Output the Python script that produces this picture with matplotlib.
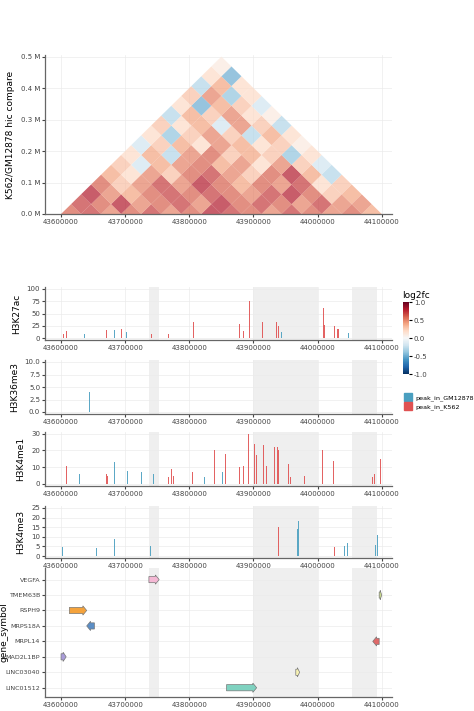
import matplotlib
matplotlib.use("Agg")
import matplotlib.pyplot as plt
import numpy as np
from matplotlib.patches import FancyArrow, Patch
from matplotlib.collections import PolyCollection
import matplotlib.colors as mcolors

# ---------------- data ----------------
hic_start = 43600000
hic_bin = 31250
hic_rows = [  # log2fc by diagonal distance (row d has 16-d cells)
    [0.6,0.7,0.5,0.6,0.7,0.5,0.6,0.8,0.7,0.6,0.5,0.7,0.6,0.5,0.6,0.4],
    [0.7,0.6,0.8,0.5,0.6,0.7,0.5,0.8,0.6,0.7,0.6,0.5,0.7,0.5,0.5],
    [0.8,0.5,0.4,0.6,0.7,0.6,0.7,0.6,0.5,0.7,0.8,0.6,0.3,0.4],
    [0.6,0.3,0.5,0.7,0.5,0.8,0.6,0.4,0.6,0.5,0.7,0.2,0.3],
    [0.4,0.2,0.5,0.3,0.6,0.7,0.5,0.3,0.6,0.8,0.4,-0.3],
    [0.3,-0.2,0.4,0.5,0.6,0.4,0.5,0.2,0.5,0.3,-0.2],
    [0.2,0.4,-0.3,0.5,0.6,0.3,0.4,0.3,-0.4,0.2],
    [-0.2,0.3,0.4,0.2,0.5,0.4,0.2,0.3,0.1],
    [0.2,-0.4,0.3,0.5,0.3,-0.3,0.4,0.2],
    [0.3,0.2,0.4,-0.2,0.5,0.3,-0.3],
    [-0.3,0.4,0.3,0.5,0.2,0.1],
    [0.2,-0.5,0.4,0.3,-0.2],
    [0.3,0.5,-0.4,0.2],
    [-0.3,0.4,0.2],
    [0.2,-0.5],
    [0.1],
]

h3k27ac_pos = [43604000,43608000,43636000,43671000,43683000,43694000,43702000,43741000,43767000,43806000,
               43878000,43884000,43894000,43914000,43936000,43939000,43944000,44009000,44011000,44026000,
               44031000,44033000,44048000]
h3k27ac_val = [8,15,9,17,16,18,12,8,8,32,28,14,75,32,32,25,12,62,27,24,18,18,10]
h3k27ac_grp = ["K","K","G","K","G","K","G","K","K","K","K","K","K","K","K","K","G","K","K","K","K","K","G"]

h3k36me3_pos = [43644000]
h3k36me3_val = [4]
h3k36me3_grp = ["G"]

h3k4me1_pos = [43608000,43629000,43671000,43673000,43683000,43703000,43725000,43744000,43767000,43772000,
               43775000,43805000,43812000,43823000,43839000,43852000,43856000,43878000,43884000,43893000,
               43901000,43905000,43916000,43920000,43933000,43937000,43939000,43955000,43958000,43971000,
               43979000,44008000,44010000,44025000,44085000,44088000,44098000]
h3k4me1_val = [11,6,6,5,13,8,7,6,4,9,5,7,23,4,20,7,18,10,11,30,24,17,23,11,22,22,20,12,4,12,5,20,11,14,4,6,15]
h3k4me1_grp = ["K","G","K","K","G","G","G","G","K","K","K","K","K","G","K","G","K","K","K","K",
               "K","K","K","K","K","K","K","K","K","G","K","K","K","K","K","K","K"]

h3k4me3_pos = [43603000,43655000,43683000,43739000,43939000,43968000,43970000,44026000,44042000,44046000,44091000,44093000]
h3k4me3_val = [4.5,4,9,5,15,14,18,4.5,5,7,6,11]
h3k4me3_grp = ["G","G","G","G","K","G","G","K","G","G","G","G"]

genes = ["VEGFA","TMEM63B","RSPH9","MRPS18A","MRPL14","MAD2L1BP","LINC03040","LINC01512"]
gene_start = [43737000,44096000,43613000,43640000,44086000,43600000,43966000,43858000]
gene_end = [43753000,44100000,43640000,43652000,44096000,43608000,43972000,43905000]
gene_strand = ["+","+","+","-","-","+","+","+"]
gene_color = ["#f4b8d4","#c9d98c","#f5a33c","#5b8ec6","#e06868","#a99cd9","#f7f2b4","#7fd2c0"]

shade_regions = [(43737000,43752000),(43900000,44000000),(44053000,44092000)]
grp_color = {"G":"#4a9fc0","K":"#e05252"}
xlim = (43575000, 44116000)
xticks = [43600000,43700000,43800000,43900000,44000000,44100000]

# ---------------- figure ----------------
fig = plt.figure(figsize=(4.74, 7.11), dpi=100)
FS = 5
L, W = 45/474, 347/474

def style(ax):
    ax.set_xlim(*xlim)
    ax.set_xticks(xticks)
    ax.set_xticklabels([str(t) for t in xticks], fontsize=FS, color="#444")
    ax.tick_params(axis="y", labelsize=FS, colors="#444", length=2, pad=1.5)
    ax.tick_params(axis="x", length=2, colors="#444", pad=1.5)
    for s in ["top","right"]:
        ax.spines[s].set_visible(False)
    for s in ["left","bottom"]:
        ax.spines[s].set_color("#666")
        ax.spines[s].set_linewidth(0.9)
    ax.grid(True, color="#ebebeb", linewidth=0.5)
    ax.set_axisbelow(True)
    ax.set_facecolor("none")

def fy(top, bot):
    return [L, 1-bot/711, W, (bot-top)/711]

# Hi-C
ax0 = fig.add_axes(fy(55, 214))
style(ax0)
norm = mcolors.Normalize(-1, 1)
cmap = plt.get_cmap("RdBu_r")
polys, cols = [], []
for d, row in enumerate(hic_rows):
    for i, v in enumerate(row):
        j = i + d
        si, ei = hic_start + i*hic_bin, hic_start + (i+1)*hic_bin
        sj, ej = hic_start + j*hic_bin, hic_start + (j+1)*hic_bin
        pts = [((si+sj)/2, sj-si), ((ei+sj)/2, sj-ei), ((ei+ej)/2, ej-ei), ((si+ej)/2, ej-si)]
        polys.append(pts)
        cols.append(cmap(norm(v)))
pc = PolyCollection(polys, facecolors=cols, edgecolors="none", alpha=0.7)
ax0.add_collection(pc)
ax0.set_ylim(0, 505000)
ax0.set_yticks([0,100000,200000,300000,400000,500000])
ax0.set_yticklabels(["0.0 M","0.1 M","0.2 M","0.3 M","0.4 M","0.5 M"])
ax0.set_ylabel("K562/GM12878 hic compare", fontsize=6.5)

tracks = [
    ("H3K27ac", h3k27ac_pos, h3k27ac_val, h3k27ac_grp, (287, 340), (-4, 104), [0,25,50,75,100], ["0","25","50","75","100"]),
    ("H3K36me3", h3k36me3_pos, h3k36me3_val, h3k36me3_grp, (360, 414), (-0.4, 10.4), [0,2.5,5,7.5,10], ["0.0","2.5","5.0","7.5","10.0"]),
    ("H3K4me1", h3k4me1_pos, h3k4me1_val, h3k4me1_grp, (432, 486), (-1.2, 31), [0,10,20,30], ["0","10","20","30"]),
    ("H3K4me3", h3k4me3_pos, h3k4me3_val, h3k4me3_grp, (506, 558), (-1, 26), [0,5,10,15,20,25], ["0","5","10","15","20","25"]),
]
for name, pos, val, grp, (t, b), yl, yt, ytl in tracks:
    ax = fig.add_axes(fy(t, b))
    style(ax)
    for s, e in shade_regions:
        ax.axvspan(s, e, color="#efefef", zorder=0.5, lw=0)
    ax.bar(pos, val, width=1500, color=[grp_color[g] for g in grp], alpha=0.9, zorder=2)
    ax.set_ylim(*yl)
    ax.set_yticks(yt)
    ax.set_yticklabels(ytl)
    ax.set_ylabel(name, fontsize=6.5)

# genes
axg = fig.add_axes(fy(568, 697))
style(axg)
axg.tick_params(axis="y", labelsize=4.6)
for s, e in shade_regions:
    axg.axvspan(s, e, color="#efefef", zorder=0.5, lw=0)
n = len(genes)
for k, g in enumerate(genes):
    y = n - k
    s, e = gene_start[k], gene_end[k]
    L_ = e - s
    head = 6000 if L_ > 10000 else L_*0.6
    if gene_strand[k] == "+":
        x0, dx = s, L_
    else:
        x0, dx = e, -L_
    arr = FancyArrow(x0, y, dx, 0, width=0.4, head_width=0.6, head_length=head,
                     length_includes_head=True, facecolor=gene_color[k], edgecolor="#777", lw=0.5, zorder=3)
    axg.add_patch(arr)
axg.set_ylim(0.4, n + 0.75)
axg.set_yticks(range(n, 0, -1))
axg.set_yticklabels(genes)
axg.set_ylabel("gene_symbol", fontsize=6.5)
axg.yaxis.set_label_coords(-0.105, 0.5)

# colorbar
cax = fig.add_axes([403/474, 1-374/711, 6/474, 72/711])
cb = matplotlib.colorbar.ColorbarBase(cax, cmap=cmap, norm=norm, ticks=[-1,-0.5,0,0.5,1])
cb.ax.set_yticklabels(["-1.0","-0.5","0.0","0.5","1.0"], fontsize=FS, color="#444")
cb.outline.set_visible(False)
cb.ax.tick_params(length=2, pad=1.5)
fig.text(402/474, 1-296/711, "log2fc", fontsize=6.5, va="center")

# legend
handles = [Patch(color=grp_color["G"], label="peak_in_GM12878"), Patch(color=grp_color["K"], label="peak_in_K562")]
fig.legend(handles=handles, loc="upper left", bbox_to_anchor=(398/474, 1-387/711), frameon=False,
           fontsize=4.6, handlelength=1.3, handleheight=1.6, labelspacing=0.15, handletextpad=0.5)

fig.savefig("out.png", dpi=100)
